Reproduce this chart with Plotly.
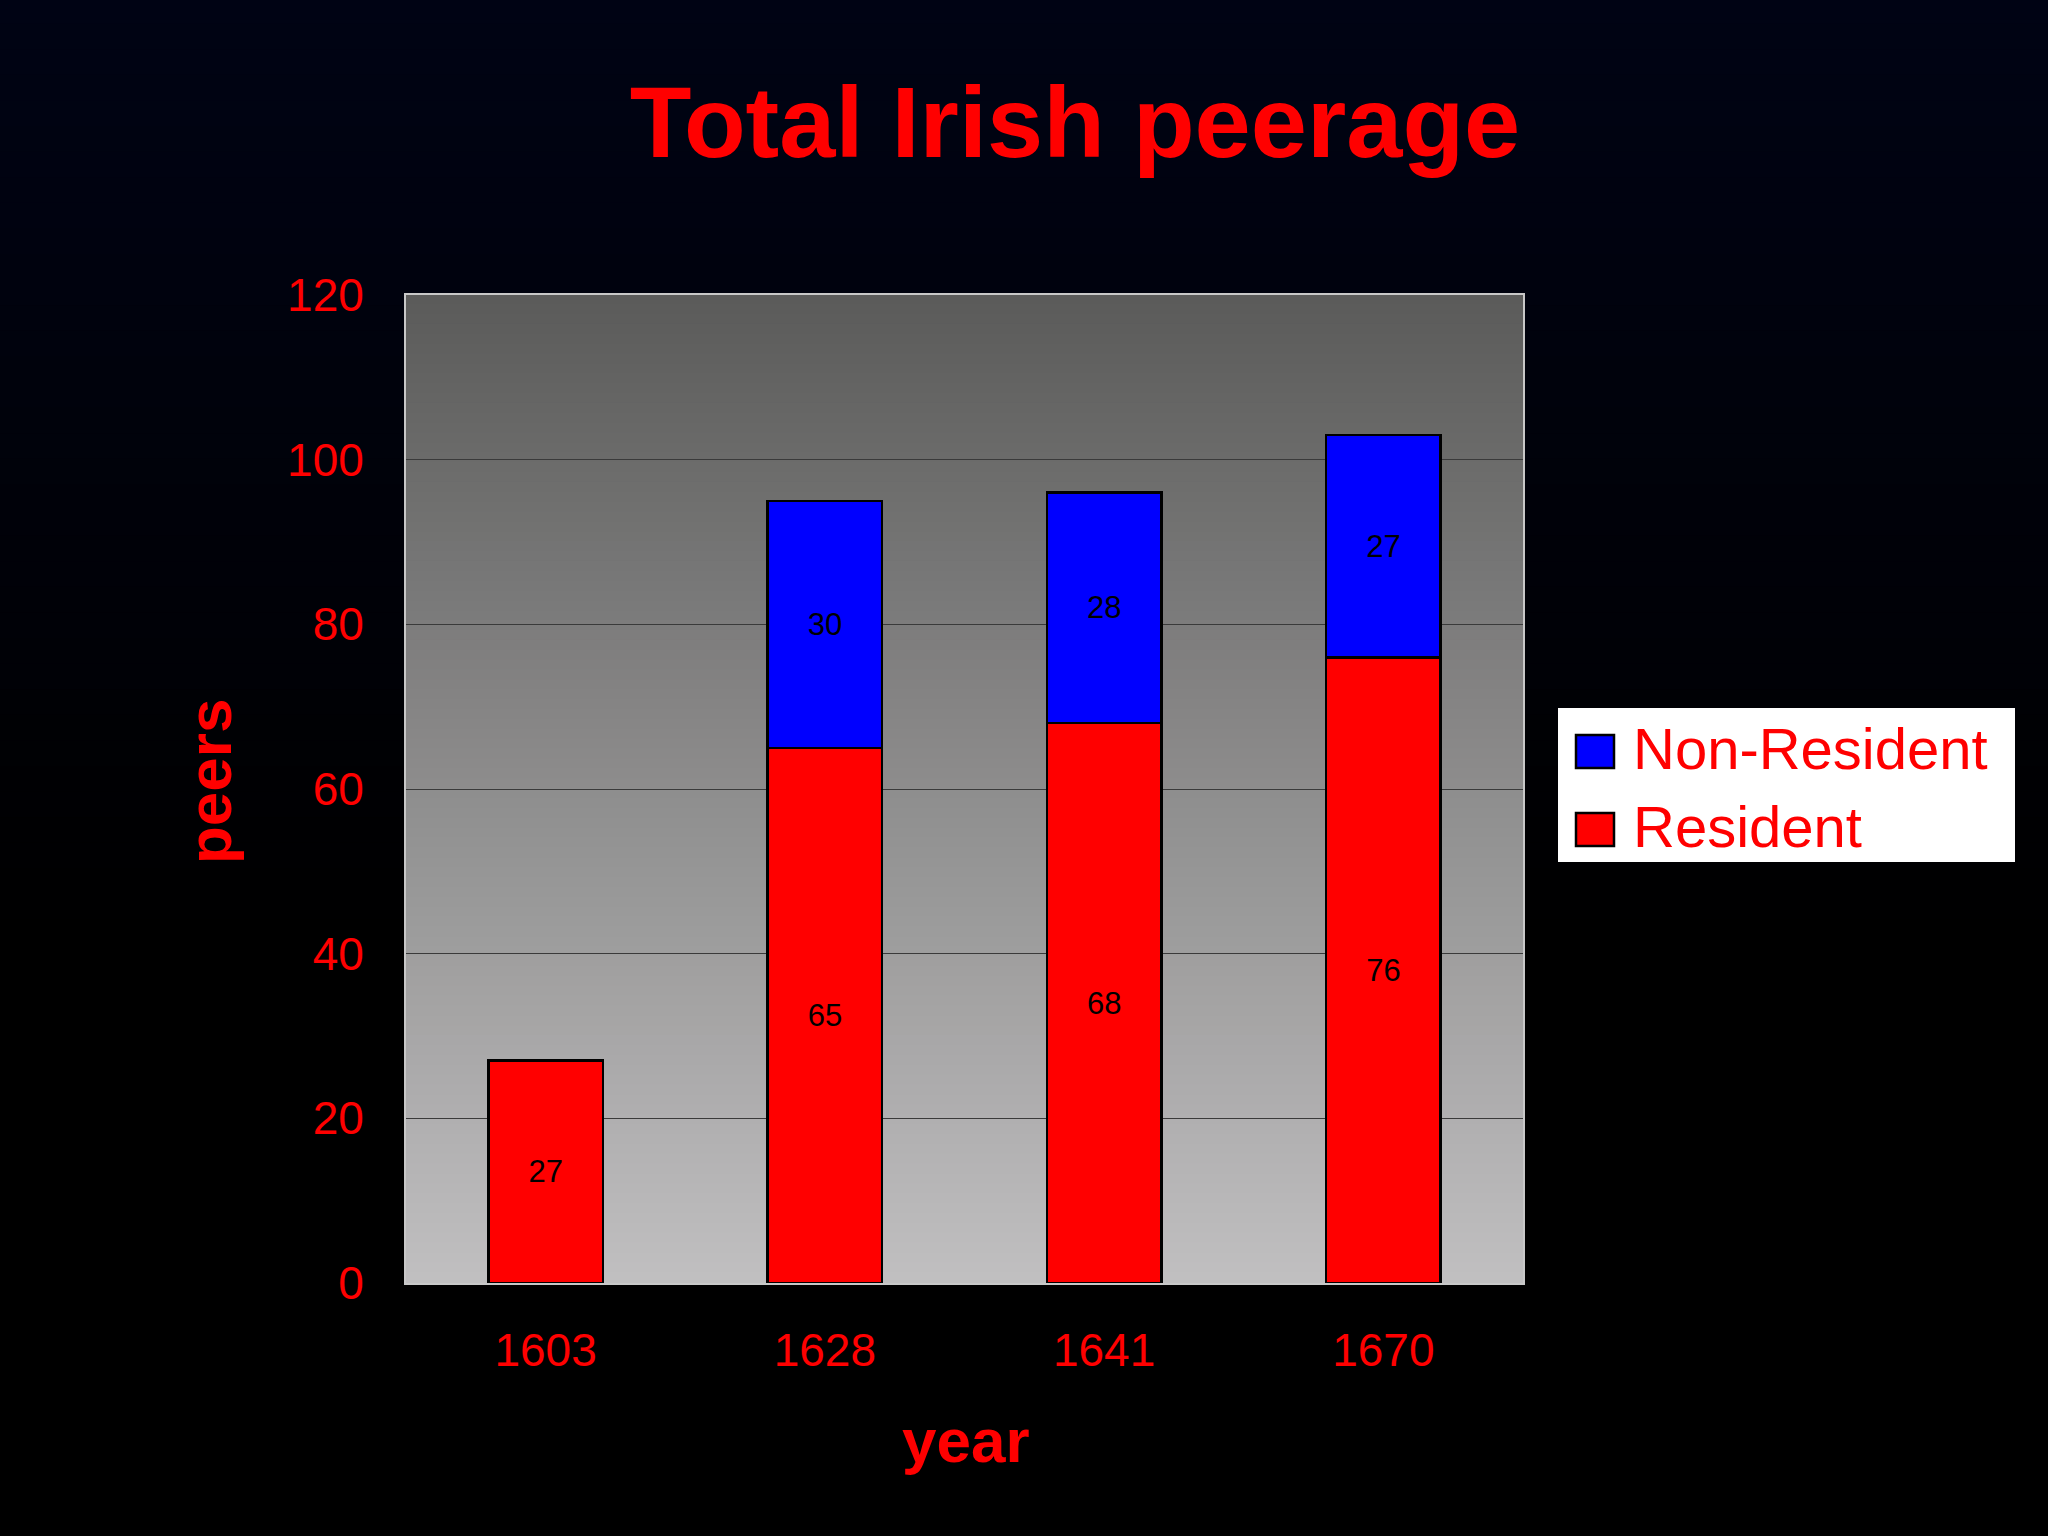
import plotly.graph_objects as go

# ---- data ----
years = ["1603", "1628", "1641", "1670"]
resident = [27, 65, 68, 76]
non_resident = [None, 30, 28, 27]
series_names = ["Non-Resident", "Resident"]
series_colors = {"Non-Resident": "#0000ff", "Resident": "#ff0000"}
y_ticks = [0, 20, 40, 60, 80, 100, 120]

W, H = 2048, 1536
L, R, T, B = 406, 1523, 295, 1283  # plot area in pixels


def px(x):
    return (x - L) / (R - L)


def py(y):
    return (B - y) / (B - T)


FONT = "Liberation Sans, Arial, sans-serif"

fig = go.Figure()
fig.add_trace(go.Bar(
    x=years, y=resident, name="Resident",
    marker=dict(color=series_colors["Resident"], line=dict(color="black", width=2.5)),
    texttemplate="%{y}", textposition="inside", insidetextanchor="middle",
    textangle=0, constraintext="none",
    textfont=dict(family=FONT, size=31, color="black"),
))
fig.add_trace(go.Bar(
    x=years, y=non_resident, name="Non-Resident",
    marker=dict(color=series_colors["Non-Resident"], line=dict(color="black", width=2.5)),
    texttemplate="%{y}", textposition="inside", insidetextanchor="middle",
    textangle=0, constraintext="none",
    textfont=dict(family=FONT, size=31, color="black"),
))

shapes = []
# figure background gradient (navy -> black)
N = 60
for i in range(N):
    f = i / N
    t = min(1.0, f / 0.6)
    g = round(3 * (1 - t))
    b = round(20 * (1 - t))
    shapes.append(dict(type="rect", xref="paper", yref="paper",
                       x0=-L / (R - L) - 0.01, x1=(W - L) / (R - L) + 0.01,
                       y0=py(H * (i + 1) / N) - 0.002, y1=py(H * i / N) + 0.002,
                       fillcolor=f"rgb(0,{g},{b})", line=dict(width=0), layer="below"))
# plot-area gradient (dark grey top -> light grey bottom)
M = 100
for i in range(M):
    f = (i + 0.5) / M
    c0, c1 = (90, 90, 89), (193, 192, 193)
    col = tuple(round(c0[k] + (c1[k] - c0[k]) * f) for k in range(3))
    shapes.append(dict(type="rect", xref="x domain", yref="y domain",
                       x0=0, x1=1, y0=1 - (i + 1) / M - 0.001, y1=1 - i / M + 0.001,
                       fillcolor=f"rgb{col}", line=dict(width=0), layer="below"))

# manual legend
shapes.append(dict(type="rect", xref="paper", yref="paper",
                   x0=px(1558), x1=px(2015), y0=py(862), y1=py(708),
                   fillcolor="white", line=dict(width=0), layer="above"))
annotations = []
legend_rows = [(735, 768), (813, 846)]
for name, (ya, yb) in zip(series_names, legend_rows):
    shapes.append(dict(type="rect", xref="paper", yref="paper",
                       x0=px(1576), x1=px(1614), y0=py(yb), y1=py(ya),
                       fillcolor=series_colors[name], line=dict(color="black", width=2.5),
                       layer="above"))
    annotations.append(dict(text=name, xref="paper", yref="paper",
                            x=px(1631), y=py((ya + yb) / 2 - 3), xanchor="left", yanchor="middle",
                            showarrow=False, font=dict(family=FONT, size=58, color="#ff0000")))

annotations.append(dict(text="<b>year</b>", xref="paper", yref="paper",
                        x=px(966), y=py(1440), xanchor="center", yanchor="middle",
                        showarrow=False, font=dict(family=FONT, size=62, color="#ff0000")))
annotations.append(dict(text="<b>peers</b>", xref="paper", yref="paper",
                        x=px(209), y=py(782), xanchor="center", yanchor="middle",
                        textangle=-90, showarrow=False,
                        font=dict(family=FONT, size=62, color="#ff0000")))

fig.update_layout(
    width=W, height=H,
    margin=dict(l=L, r=W - R, t=T, b=H - B, pad=0),
    paper_bgcolor="black",
    plot_bgcolor="rgba(0,0,0,0)",
    barmode="stack",
    bargap=0.59,
    showlegend=False,
    title=dict(text="<b>Total Irish peerage</b>", x=1075 / W, xref="container", xanchor="center",
               y=1 - 122 / H, yref="container", yanchor="middle",
               font=dict(family=FONT, size=101, color="#ff0000")),
    shapes=shapes,
    annotations=annotations,
    xaxis=dict(type="category", categoryorder="array", categoryarray=years,
               showgrid=False, showline=True, mirror=True, linecolor="#c8c8c8", linewidth=2,
               ticks="", ticklabelstandoff=26,
               tickfont=dict(family=FONT, size=46, color="#ff0000"), zeroline=False),
    yaxis=dict(range=[0, 120], tickvals=y_ticks, showgrid=True, gridcolor="#3a3a3a", gridwidth=1,
               showline=True, mirror=True, linecolor="#c8c8c8", linewidth=2,
               ticks="", ticklabelstandoff=31, zeroline=False,
               tickfont=dict(family=FONT, size=46, color="#ff0000")),
)

fig.write_html("out.html")
